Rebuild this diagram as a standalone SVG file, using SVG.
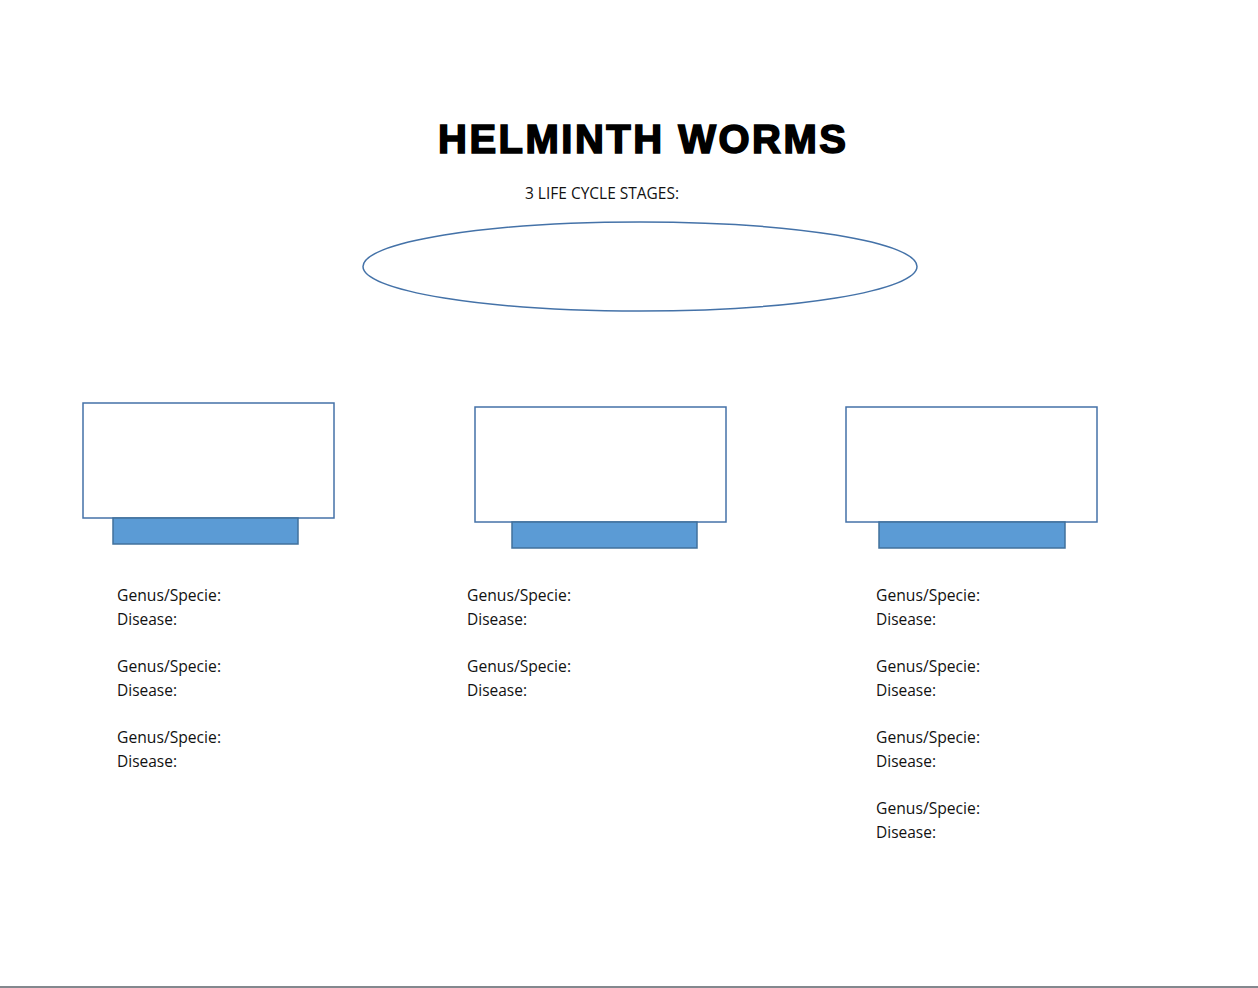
<svg xmlns="http://www.w3.org/2000/svg" width="1258" height="988" viewBox="0 0 1258 988">
<style>
.title{font-family:"Liberation Sans",Arial,sans-serif;font-weight:900;font-size:40px;fill:#000;stroke:#000;stroke-width:1.6px}
.sub{font-family:"Open Sans","Liberation Sans",sans-serif;font-size:15.5px;fill:#111}
.lbl{font-family:"Open Sans","Liberation Sans",sans-serif;font-size:15.5px;fill:#111}
.box{fill:#fff;stroke:#4472a8;stroke-width:1.5}
.bar{fill:#5b9bd5;stroke:#41719c;stroke-width:1.5}
.ell{fill:none;stroke:#4472a8;stroke-width:1.5}
</style>
<rect width="1258" height="988" fill="#fff"/>
<g id="title">
<text class="title" x="438" y="153" textLength="408" lengthAdjust="spacing">HELMINTH WORMS</text>
</g>
<g id="subtitle">
<text class="sub" x="525" y="199" textLength="154" lengthAdjust="spacingAndGlyphs">3 LIFE CYCLE STAGES:</text>
</g>
<g id="stages">
<ellipse class="ell" cx="640" cy="266.5" rx="277" ry="44.5"/>
</g>
<g id="box1">
<rect class="box" x="83" y="403" width="251" height="115"/>
<rect class="bar" x="113" y="518" width="185" height="26"/>
</g>
<g id="box2">
<rect class="box" x="475" y="407" width="251" height="115"/>
<rect class="bar" x="512" y="522" width="185" height="26"/>
</g>
<g id="box3">
<rect class="box" x="846" y="407" width="251" height="115"/>
<rect class="bar" x="879" y="522" width="186" height="26"/>
</g>
<g id="list1">
<text class="lbl" x="117" y="601" textLength="104" lengthAdjust="spacingAndGlyphs">Genus/Specie:</text>
<text class="lbl" x="117" y="625" textLength="60" lengthAdjust="spacingAndGlyphs">Disease:</text>
<text class="lbl" x="117" y="672" textLength="104" lengthAdjust="spacingAndGlyphs">Genus/Specie:</text>
<text class="lbl" x="117" y="696" textLength="60" lengthAdjust="spacingAndGlyphs">Disease:</text>
<text class="lbl" x="117" y="743" textLength="104" lengthAdjust="spacingAndGlyphs">Genus/Specie:</text>
<text class="lbl" x="117" y="767" textLength="60" lengthAdjust="spacingAndGlyphs">Disease:</text>
</g>
<g id="list2">
<text class="lbl" x="467" y="601" textLength="104" lengthAdjust="spacingAndGlyphs">Genus/Specie:</text>
<text class="lbl" x="467" y="625" textLength="60" lengthAdjust="spacingAndGlyphs">Disease:</text>
<text class="lbl" x="467" y="672" textLength="104" lengthAdjust="spacingAndGlyphs">Genus/Specie:</text>
<text class="lbl" x="467" y="696" textLength="60" lengthAdjust="spacingAndGlyphs">Disease:</text>
</g>
<g id="list3">
<text class="lbl" x="876" y="601" textLength="104" lengthAdjust="spacingAndGlyphs">Genus/Specie:</text>
<text class="lbl" x="876" y="625" textLength="60" lengthAdjust="spacingAndGlyphs">Disease:</text>
<text class="lbl" x="876" y="672" textLength="104" lengthAdjust="spacingAndGlyphs">Genus/Specie:</text>
<text class="lbl" x="876" y="696" textLength="60" lengthAdjust="spacingAndGlyphs">Disease:</text>
<text class="lbl" x="876" y="743" textLength="104" lengthAdjust="spacingAndGlyphs">Genus/Specie:</text>
<text class="lbl" x="876" y="767" textLength="60" lengthAdjust="spacingAndGlyphs">Disease:</text>
<text class="lbl" x="876" y="814" textLength="104" lengthAdjust="spacingAndGlyphs">Genus/Specie:</text>
<text class="lbl" x="876" y="838" textLength="60" lengthAdjust="spacingAndGlyphs">Disease:</text>
</g>
<g id="connectors"></g>
<line x1="0" y1="987" x2="1258" y2="987" stroke="#5a6068" stroke-width="1.5"/>
</svg>
